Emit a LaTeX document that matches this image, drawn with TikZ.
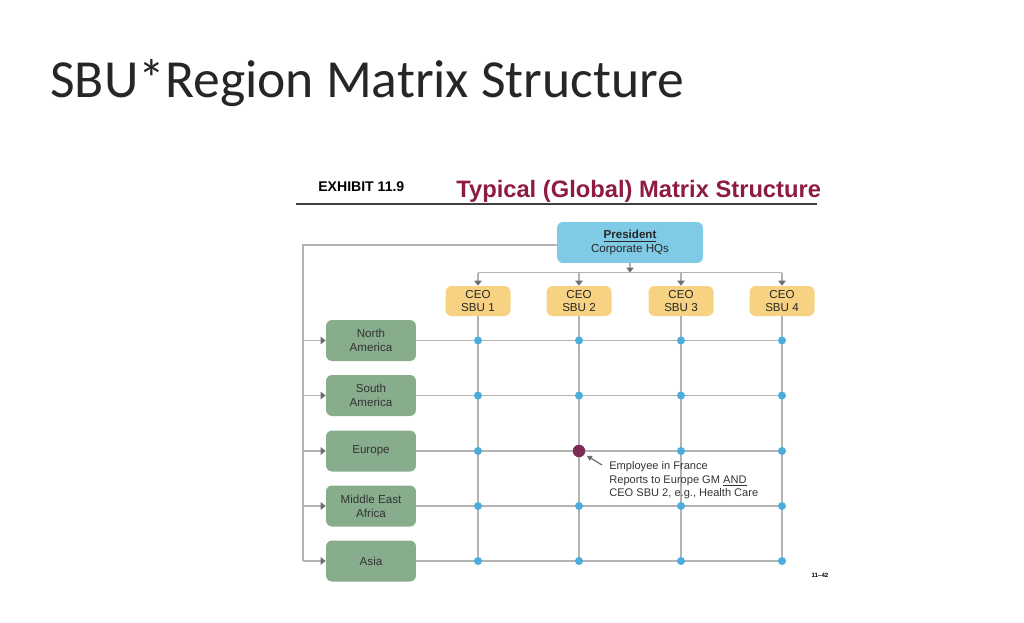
\documentclass[tikz,border=0pt]{standalone}
\usepackage{fontspec}
\setmainfont{Liberation Sans}
\newfontfamily\slidefont{Carlito}
\usetikzlibrary{positioning,arrows.meta}

\definecolor{hqblue}{HTML}{7FCBE5}
\definecolor{ceoorange}{HTML}{F7D283}
\definecolor{regiongreen}{HTML}{87AD8D}
\definecolor{dotblue}{HTML}{4AADDC}
\definecolor{franceplum}{HTML}{7D2D55}
\definecolor{exhibitred}{HTML}{8E1B42}
\definecolor{linegray}{HTML}{B3B3B3}
\definecolor{tipgray}{HTML}{6E6E6E}

\begin{document}
\begin{tikzpicture}[x=0.02cm, y=-0.02cm,
  box/.style={rectangle, rounded corners=0.12cm, align=center, inner sep=0pt, font=\fontsize{6.6}{7.8}\selectfont, text=black!85},
  hq/.style={box, fill=hqblue, minimum width=2.92cm, minimum height=0.82cm},
  ceo/.style={box, fill=ceoorange, minimum width=1.3cm, minimum height=0.6cm},
  region/.style={box, fill=regiongreen, minimum width=1.8cm, minimum height=0.82cm, text=black!80},
  link/.style={draw=linegray, line width=1pt},
  feed/.style={link, -{Triangle[length=0.1cm, width=0.15cm, color=tipgray]}},
  dot/.style={circle, fill=dotblue, inner sep=0pt, minimum size=0.16cm}]

  \useasboundingbox (0,0) rectangle (1024,622);

  % Folientitel und Kopfzeile der Abbildung
  \node[anchor=base west, inner sep=0pt, font=\slidefont\fontsize{30.5}{36}\selectfont, text=black!85] (title) at (50,97) {SBU*Region Matrix Structure};
  \node[anchor=base west, inner sep=0pt, font=\bfseries\fontsize{8}{9.6}\selectfont] (exhibit) at (318,191.5) {EXHIBIT 11.9};
  \node[anchor=base west, inner sep=0pt, font=\bfseries\fontsize{13.5}{16}\selectfont, text=exhibitred] (heading) at (456,197) {Typical (Global) Matrix Structure};
  \draw[line width=0.6pt, black!75] (296,204) -- (817,204);

  % Zentrale und SBU-Leitung
  \node[hq] (HQ) at (630,242.5) {\textbf{\underline{President}}\\Corporate HQs};
  \node[ceo] (CEO1) at (478,301) {CEO\\SBU 1};
  \node[ceo] (CEO2) at (579,301) {CEO\\SBU 2};
  \node[ceo] (CEO3) at (681,301) {CEO\\SBU 3};
  \node[ceo] (CEO4) at (782,301) {CEO\\SBU 4};

  % Regionen
  \node[region] (NA) at (371,340.5) {North\\America};
  \node[region] (SA) at (371,395.5) {South\\America};
  \node[region] (EU) at (371,451) {Europe};
  \node[region] (ME) at (371,506) {Middle East\\Africa};
  \node[region] (AS) at (371,561) {Asia};

  % Kreuzungspunkte der Matrix
  \foreach \r/\y in {NA/340.5, SA/395.5, EU/451, ME/506, AS/561}
    \foreach \c/\x in {1/478, 2/579, 3/681, 4/782}
      \coordinate (\r\c) at (\x,\y);
  \coordinate (split) at (630,272.5);
  \coordinate (busTop) at (303,245);
  \coordinate (busBot) at (303,561);

  % Berichtslinien von der Zentrale
  \draw[link] (HQ.west |- busTop) -- (busTop) -- (busBot);
  \draw[feed] (HQ) -- (split);
  \draw[link] (split -| CEO1) -- (split -| CEO4);
  \draw[feed] (split -| CEO1) -- (CEO1);
  \draw[feed] (split -| CEO2) -- (CEO2);
  \draw[feed] (split -| CEO3) -- (CEO3);
  \draw[feed] (split -| CEO4) -- (CEO4);
  \draw[feed] (busTop |- NA) -- (NA);
  \draw[feed] (busTop |- SA) -- (SA);
  \draw[feed] (busTop |- EU) -- (EU);
  \draw[feed] (busTop |- ME) -- (ME);
  \draw[feed] (busTop |- AS) -- (AS);

  % Gitter: Regionen x SBUs
  \draw[link] (NA) -- (NA4);
  \draw[link] (SA) -- (SA4);
  \draw[link] (EU) -- (EU4);
  \draw[link] (ME) -- (ME4);
  \draw[link] (AS) -- (AS4);
  \draw[link] (CEO1) -- (AS1);
  \draw[link] (CEO2) -- (AS2);
  \draw[link] (CEO3) -- (AS3);
  \draw[link] (CEO4) -- (AS4);

  \foreach \r in {NA, SA, EU, ME, AS}
    \foreach \c in {1, 2, 3, 4}
      \node[dot] (d-\r\c) at (\r\c) {};
  \node[dot, fill=franceplum, minimum size=0.25cm] (FR) at (EU2) {};

  % Hinweis zum Mitarbeiter in Frankreich
  \node[anchor=north west, align=left, inner sep=0pt, font=\fontsize{6.3}{7.8}\selectfont, text=black!80] (note) at (609,461) {Employee in France\\Reports to Europe GM \underline{AND}\\CEO SBU 2, e.g., Health Care};
  \draw[-{Triangle[length=0.1cm, width=0.11cm]}, tipgray, line width=0.7pt, shorten >=1.5pt] ([shift={(-7,4)}]note.north west) -- (FR);

  \node[font=\bfseries\fontsize{3.5}{4}\selectfont] (pageno) at (820,575) {11--42};

\end{tikzpicture}
\end{document}
